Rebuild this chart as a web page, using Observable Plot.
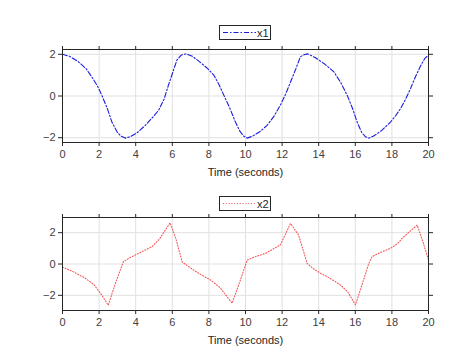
<!DOCTYPE html>
<html>
<head>
<meta charset="utf-8">
<script src="https://cdn.jsdelivr.net/npm/d3@7"></script>
<script src="https://cdn.jsdelivr.net/npm/@observablehq/plot@0.6"></script>
<style>
  body { margin: 0; background: #fff; }
  #wrap { position: relative; width: 474px; height: 355px; overflow: hidden; font-family: "Liberation Sans", Arial, sans-serif; }
  .panel { position: absolute; left: 0; }
  .legend { position: absolute; box-sizing: border-box; border: 1px solid #262626; background: #fff; }
  .legend svg { display: block; }
</style>
</head>
<body>
<div id="wrap"></div>
<script>
// Time ticks and value ticks
const xTicks = [0, 2, 4, 6, 8, 10, 12, 14, 16, 18, 20];
const y1Ticks = [-2, 0, 2];
const y2Ticks = [-2, 0, 2];
const xLabel = "Time (seconds)";
const seriesNames = ["x1", "x2"];

// x1 series
const t1 = [0, 0.4, 0.87, 1.3, 1.6, 1.9, 2.15, 2.45, 2.7, 3.0, 3.2, 3.42, 3.7, 4.1, 4.52, 4.9, 5.25, 5.55, 5.79, 6.05, 6.25, 6.5, 6.75,
            7.1, 7.55, 7.95, 8.27, 8.55, 8.82, 9.15, 9.45, 9.7, 9.9, 10.09, 10.4, 10.8, 11.18, 11.55, 11.9, 12.2, 12.46, 12.75, 13.0, 13.2, 13.4,
            13.8, 14.3, 14.83, 15.2, 15.56, 15.85, 16.1, 16.35, 16.55, 16.74, 17.0, 17.45, 17.92, 18.2, 18.47, 18.75, 19.02, 19.3, 19.6, 19.8, 20];
const x1 = [2.0, 1.9, 1.64, 1.3, 0.92, 0.5, 0.03, -0.6, -1.25, -1.75, -1.93, -2.02, -1.95, -1.75, -1.41, -1.05, -0.69, -0.15, 0.52, 1.2, 1.72, 1.97, 2.02,
            1.9, 1.6, 1.3, 1.0, 0.55, 0.03, -0.6, -1.25, -1.7, -1.92, -2.02, -1.92, -1.7, -1.41, -0.98, -0.45, 0.1, 0.67, 1.3, 1.88, 1.98, 2.02,
            1.85, 1.55, 1.16, 0.65, 0.03, -0.6, -1.25, -1.75, -1.95, -2.02, -1.92, -1.65, -1.25, -0.95, -0.61, -0.15, 0.36, 0.95, 1.5, 1.8, 1.96];

// x2 series
const t2 = [0, 0.6, 1.24, 1.7, 2.1, 2.5, 2.9, 3.33, 3.6, 3.97, 4.45, 4.88, 5.3, 5.88, 6.2, 6.54, 6.81, 7.18, 7.6, 8.09, 8.6, 9.27,
            9.7, 10.09, 10.5, 11.09, 11.5, 11.9, 12.46, 12.9, 13.37, 13.7, 14.1, 14.6, 15.19, 15.6, 16.01, 16.4, 16.74, 16.92, 17.4, 17.92, 18.3, 18.65, 19.38, 19.7, 20];
const x2 = [-0.2, -0.5, -0.91, -1.3, -1.9, -2.63, -1.2, 0.15, 0.35, 0.57, 0.85, 1.1, 1.6, 2.63, 1.6, 0.13, -0.1, -0.4, -0.7, -1.02, -1.5, -2.5,
            -1.1, 0.25, 0.45, 0.68, 0.95, 1.21, 2.59, 1.85, 0.04, -0.3, -0.59, -0.9, -1.34, -1.8, -2.61, -1.2, 0.04, 0.47, 0.75, 1.0, 1.3, 1.74, 2.49, 1.4, 0.25];

const d1 = t1.map((t, i) => ({t, v: x1[i]}));
const d2 = t2.map((t, i) => ({t, v: x2[i]}));

const axisColor = "#262626";
const gridColor = "#e1e1e1";
const blue = "#1a1ae0";
const red = "#f02020";
const dashDot = "5,2,1.5,2";
const dotted = "1,1.8";

function panel(data, yDomain, yTicks, height, mt, mb, stroke, dash, sw, op) {
  return Plot.plot({
    width: 474, height, marginTop: mt, marginBottom: mb, marginLeft: 62, marginRight: 46,
    style: { fontFamily: "'Liberation Sans', Arial, sans-serif", fontSize: "11px", color: axisColor, background: "transparent", overflow: "visible" },
    x: { domain: [0, 20] },
    y: { domain: yDomain },
    marks: [
      Plot.gridX(xTicks, { stroke: gridColor, strokeOpacity: 1 }),
      Plot.gridY(yTicks, { stroke: gridColor, strokeOpacity: 1 }),
      Plot.line(data, { x: "t", y: "v", stroke, strokeDasharray: dash, strokeWidth: sw, strokeOpacity: op }),
      Plot.frame({ stroke: axisColor, strokeWidth: 1 }),
      Plot.axisX(xTicks, { anchor: "bottom", tickSize: 4, tickPadding: 4, label: null, fill: "#404040" }),
      Plot.axisX(xTicks, { anchor: "top", tickSize: 4, tickFormat: () => "", label: null }),
      Plot.axisY(yTicks, { anchor: "left", tickSize: 4, tickPadding: 3, label: null, fill: "#404040" }),
      Plot.axisY(yTicks, { anchor: "right", tickSize: 4, tickFormat: () => "", label: null }),
      Plot.text([xLabel], { frameAnchor: "bottom", dy: 30, text: d => d, fill: "#262626", fontSize: 11, lineAnchor: "middle" })
    ]
  });
}

const wrap = document.getElementById("wrap");

const p1 = panel(d1, [-2.23, 2.23], y1Ticks, 180, 49, 38, blue, dashDot, 1.1, 1);
p1.classList.add("panel"); p1.style.top = "0px";
wrap.appendChild(p1);

const p2 = panel(d2, [-2.97, 2.97], y2Ticks, 175, 37, 45, red, dotted, 1.1, 0.75);
p2.classList.add("panel"); p2.style.top = "180px";
wrap.appendChild(p2);

function legend(name, top, stroke, dash, op) {
  const div = document.createElement("div");
  div.className = "legend";
  div.style.left = "219px"; div.style.top = top + "px";
  div.style.width = "52px"; div.style.height = "15px";
  const ns = "http://www.w3.org/2000/svg";
  const svg = document.createElementNS(ns, "svg");
  svg.setAttribute("width", 50); svg.setAttribute("height", 13);
  const ln = document.createElementNS(ns, "line");
  ln.setAttribute("x1", 3); ln.setAttribute("x2", 36); ln.setAttribute("y1", 6.5); ln.setAttribute("y2", 6.5);
  ln.setAttribute("stroke", stroke); ln.setAttribute("stroke-width", 1.1); ln.setAttribute("stroke-dasharray", dash);
  ln.setAttribute("stroke-opacity", op);
  svg.appendChild(ln);
  const tx = document.createElementNS(ns, "text");
  tx.setAttribute("x", 37); tx.setAttribute("y", 10.5);
  tx.setAttribute("font-size", 11); tx.setAttribute("fill", "#262626");
  tx.setAttribute("font-family", "'Liberation Sans', Arial, sans-serif");
  tx.textContent = name;
  svg.appendChild(tx);
  div.appendChild(svg);
  wrap.appendChild(div);
}
legend(seriesNames[0], 25, blue, dashDot, 1);
legend(seriesNames[1], 196, red, dotted, 0.75);
</script>
</body>
</html>
